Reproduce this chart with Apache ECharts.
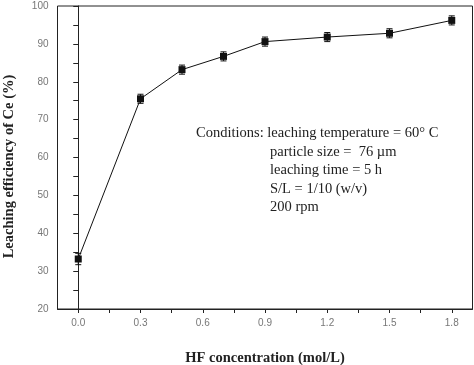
<!DOCTYPE html>
<html>
<head>
<meta charset="utf-8">
<script src="https://cdn.jsdelivr.net/npm/echarts@6/dist/echarts.min.js"></script>
<style>
  html, body { margin: 0; padding: 0; background: #fff; }
  #chart { width: 474px; height: 365px; }
</style>
</head>
<body>
<div id="chart"></div>
<script>
// Données
const hfConc = [0.0, 0.3, 0.5, 0.7, 0.9, 1.2, 1.5, 1.8];
const efficiency = [33.2, 75.5, 83.2, 86.7, 90.6, 91.8, 92.8, 96.2];
const errors = [1.5, 1.2, 1.2, 1.2, 1.2, 1.2, 1.2, 1.2];

// Graduations de l'axe X
const xLabelValues = [0.0, 0.3, 0.6, 0.9, 1.2, 1.5, 1.8];
const xTickValues = [0.0, 0.15, 0.3, 0.45, 0.6, 0.75, 0.9, 1.05, 1.2, 1.35, 1.5, 1.65, 1.8];

const conditions = [
  "Conditions: leaching temperature = 60° C",
  "particle size =  76 µm",
  "leaching time = 5 h",
  "S/L = 1/10 (w/v)",
  "200 rpm"
];

const serif = "'Liberation Serif', 'DejaVu Serif', serif";
const sans = "'Liberation Sans', Arial, sans-serif";

const lineData = hfConc.map((x, i) => [x, efficiency[i]]);
const errData = hfConc.map((x, i) => [x, efficiency[i], errors[i]]);

// Barres d'erreur dessinées via une série custom
function renderError(params, api) {
  const x = api.value(0);
  const y = api.value(1);
  const e = api.value(2);
  const hi = api.coord([x, y + e]);
  const lo = api.coord([x, y - e]);
  const cap = 3;
  const style = { stroke: "#111", lineWidth: 1 };
  return {
    type: "group",
    children: [
      { type: "line", shape: { x1: hi[0], y1: hi[1], x2: lo[0], y2: lo[1] }, style },
      { type: "line", shape: { x1: hi[0] - cap, y1: hi[1], x2: hi[0] + cap, y2: hi[1] }, style },
      { type: "line", shape: { x1: lo[0] - cap, y1: lo[1], x2: lo[0] + cap, y2: lo[1] }, style }
    ]
  };
}

const chart = echarts.init(document.getElementById("chart"), null, { renderer: "canvas" });

const textLines = conditions.map((t, i) => ({
  type: "text",
  left: i === 0 ? 196 : 270,
  top: 126 + i * 18.5,
  style: { text: t, font: "14.5px " + serif, fill: "#222" }
}));

chart.setOption({
  animation: false,
  backgroundColor: "#fff",
  grid: {
    left: 57.5, right: 1.5, top: 6, bottom: 56,
    outerBoundsMode: "none",
    containLabel: false,
    show: true, borderColor: "#222", borderWidth: 1, backgroundColor: "transparent"
  },
  xAxis: {
    type: "value",
    min: -0.1,
    max: 1.9,
    name: "HF concentration (mol/L)",
    nameLocation: "middle",
    nameGap: 42,
    nameTextStyle: { fontFamily: serif, fontWeight: "bold", fontSize: 14.5, color: "#222" },
    axisLine: { lineStyle: { color: "#222", width: 1 } },
    axisTick: { show: true, length: 4, inside: false, customValues: xTickValues, lineStyle: { color: "#222" } },
    axisLabel: {
      customValues: xLabelValues,
      formatter: (v) => v.toFixed(1),
      fontFamily: sans, fontSize: 10, color: "#777", margin: 9
    },
    splitLine: { show: false }
  },
  yAxis: {
    type: "value",
    min: 20,
    max: 100,
    interval: 10,
    name: "Leaching efficiency of Ce (%)",
    nameLocation: "middle",
    nameGap: 41,
    nameTextStyle: {
      fontFamily: serif, fontWeight: "bold", fontSize: 14.5, color: "#222",
      padding: [0, 18, 0, 0]
    },
    axisLine: { show: true, lineStyle: { color: "#222", width: 1 } },
    axisTick: { show: true, length: 5, lineStyle: { color: "#222" } },
    minorTick: { show: true, splitNumber: 2, length: 5, lineStyle: { color: "#222" } },
    axisLabel: { fontFamily: sans, fontSize: 10, color: "#777", margin: 9 },
    splitLine: { show: false }
  },
  series: [
    {
      type: "line",
      data: lineData,
      symbol: "rect",
      symbolSize: 7,
      lineStyle: { color: "#111", width: 1 },
      itemStyle: { color: "#111" },
      z: 3
    },
    {
      type: "custom",
      data: errData,
      renderItem: renderError,
      encode: { x: 0, y: [1] },
      z: 2
    }
  ],
  graphic: textLines
});
</script>
</body>
</html>
